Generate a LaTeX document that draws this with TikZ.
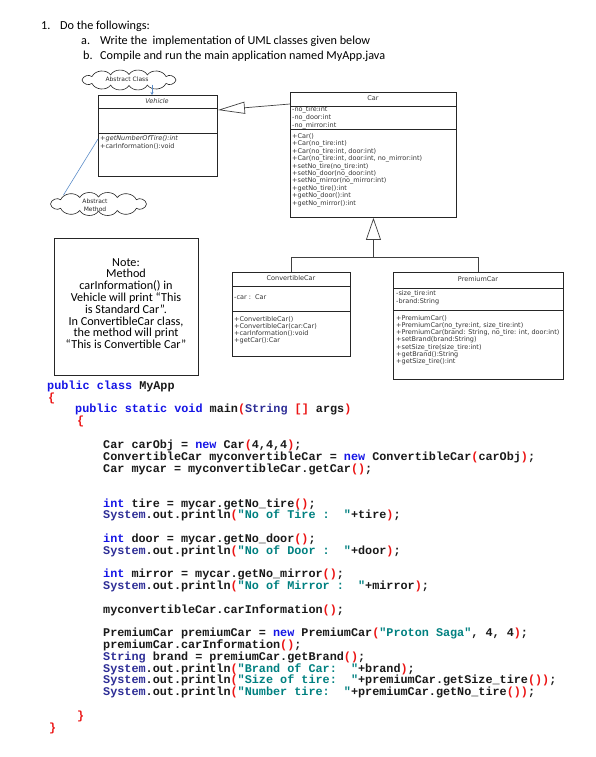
\documentclass[tikz,border=0pt]{standalone}
\usepackage{fontspec}
\setmainfont{Carlito}
\newfontfamily\umlf{DejaVu Sans}
\newfontfamily\codef{Liberation Mono}
\usetikzlibrary{shapes.geometric,arrows.meta,calc}
\definecolor{kwblue}{RGB}{20,20,230}
\definecolor{navyc}{RGB}{45,45,150}
\definecolor{strc}{RGB}{0,128,128}
\definecolor{redc}{RGB}{235,20,20}
\definecolor{codeblack}{RGB}{25,25,25}
\definecolor{noteblue}{RGB}{91,140,200}
\newcommand\jk[1]{\textcolor{kwblue}{#1}}
\newcommand\jn[1]{\textcolor{navyc}{#1}}
\newcommand\js[1]{\textcolor{strc}{#1}}
\newcommand\jr[1]{\textcolor{redc}{#1}}
\begin{document}
\begin{tikzpicture}[x=1pt,y=-1pt,
  hdr/.style={font=\fontsize{12.2}{14}\selectfont, inner sep=0pt, text height=8pt, text depth=2.6pt, anchor=west},
  uml/.style={font=\umlf\fontsize{6.5}{7.5}\selectfont, inner sep=0pt, text height=4.8pt, text depth=1.4pt, anchor=west, text=black!80},
  umlit/.style={uml, font=\umlf\itshape\fontsize{6.5}{7.5}\selectfont},
  umlname/.style={uml, anchor=center},
  umlbox/.style={draw=black!85, line width=0.9pt, inner sep=0pt, anchor=north west},
  umldiv/.style={draw=black!85, line width=0.9pt},
  umlline/.style={draw=black!75, line width=0.7pt},
  cloudline/.style={draw=black!85, line width=0.6pt},
  anchorell/.style={ellipse, draw=none, inner sep=0pt},
  pics/cloudpuff/.style n args={2}{code={
    \draw[cloudline] ({#1},0) \foreach \t in {38,67,90,113,142,180,218,247,270,293,322,360} { to[bend left=60] ({#1*cos(\t)},{#2*sin(\t)}) } -- cycle;}},
  cloudtxt/.style={font=\umlf\fontsize{6}{8.5}\selectfont, inner sep=0pt, align=center, text=black!85},
  bluelink/.style={draw=noteblue, line width=0.6pt},
  code/.style={font=\codef\bfseries\fontsize{11.8}{14}\selectfont, inner sep=0pt, text height=8pt, text depth=2.5pt, anchor=west, text=codeblack}]
\useasboundingbox (0,0) rectangle (596,757);

% ---------- header ----------
\node[hdr] (n1) at (41,27) {1.};
\node[hdr] (h1) at (60,27) {Do the followings:};
\node[hdr] (la) at (81,42) {a.};
\node[hdr] (ha) at (100,42) {Write the\ \ implementation of UML classes given below};
\node[hdr] (lb) at (83,57) {b.};
\node[hdr] (hb) at (100,57) {Compile and run the main application named MyApp.java};

% ---------- Vehicle ----------
\node[umlbox, minimum width=119pt, minimum height=81pt] (vehicle) at (98,95) {};
\draw[umldiv] ($(vehicle.north west)+(0,13)$) -- ($(vehicle.north east)+(0,13)$);
\draw[umldiv] ($(vehicle.north west)+(0,38)$) -- ($(vehicle.north east)+(0,38)$);
\node[umlit, anchor=center] (vname) at (157,101.5) {Vehicle};
\node[umlit] (vm1) at (100,139) {+getNumberOfTire():int};
\node[uml] (vm2) at (100,146.5) {+carInformation():void};

% ---------- Car ----------
\node[umlbox, minimum width=166pt, minimum height=125pt] (car) at (290,92) {};
\draw[umldiv] ($(car.north west)+(0,14)$) -- ($(car.north east)+(0,14)$);
\draw[umldiv] ($(car.north west)+(0,37)$) -- ($(car.north east)+(0,37)$);
\node[umlname] (cname) at (373,99) {Car};
\node[uml] (ca1) at (292,110) {-no\_tire:int};
\node[uml] (ca2) at (292,118) {-no\_door:int};
\node[uml] (ca3) at (292,126) {-no\_mirror:int};
\foreach \t [count=\i] in {{+Car()},{+Car(no\_tire:int)},{+Car(no\_tire:int, door:int)},{+Car(no\_tire:int, door:int, no\_mirror:int)},{+setNo\_tire(no\_tire:int)},{+setNo\_door(no\_door:int)},{+setNo\_mirror(no\_mirror:int)},{+getNo\_tire():int},{+getNo\_door():int},{+getNo\_mirror():int}}
  \node[uml] (cm\i) at (292,{136.5+7.45*(\i-1)}) {\t};

% ---------- ConvertibleCar ----------
\node[umlbox, minimum width=118pt, minimum height=84pt] (conv) at (232,272) {};
\draw[umldiv] ($(conv.north west)+(0,14)$) -- ($(conv.north east)+(0,14)$);
\draw[umldiv] ($(conv.north west)+(0,39)$) -- ($(conv.north east)+(0,39)$);
\node[umlname] (vcname) at (291,279) {ConvertibleCar};
\node[uml] (va1) at (234,298) {-car :\ \ Car};
\foreach \t [count=\i] in {{+ConvertibleCar()},{+ConvertibleCar(car:Car)},{+carInformation():void},{+getCar():Car}}
  \node[uml] (vcm\i) at (234,{320+6.9*(\i-1)}) {\t};

% ---------- PremiumCar ----------
\node[umlbox, minimum width=170pt, minimum height=107pt] (prem) at (393,272) {};
\draw[umldiv] ($(prem.north west)+(0,16)$) -- ($(prem.north east)+(0,16)$);
\draw[umldiv] ($(prem.north west)+(0,38)$) -- ($(prem.north east)+(0,38)$);
\node[umlname] (pname) at (478,279.5) {PremiumCar};
\node[uml] (pa1) at (396,293.5) {-size\_tire:int};
\node[uml] (pa2) at (396,302) {-brand:String};
\foreach \t [count=\i] in {{+PremiumCar()},{+PremiumCar(no\_tyre:int, size\_tire:int)},{+PremiumCar(brand: String, no\_tire: int, door:int)},{+setBrand(brand:String)},{+setSize\_tire(size\_tire:int)},{+getBrand():String},{+getSize\_tire():int}}
  \node[uml] (pm\i) at (396,{318.5+7.2*(\i-1)}) {\t};

% ---------- generalisations ----------
\draw[umlline, arrows={-{Triangle[open,length=27pt,width=12pt]}}] ($(car.north west)+(0,12)$) -- ($(vehicle.north east)+(0,15)$);
\coordinate (junc) at ($(car.south)+(0,39)$);
\draw[umlline] (conv.north) |- (junc) -| (prem.north);
\draw[umlline, arrows={-{Triangle[open,length=22pt,width=15pt]}}] (junc) -- (car.south);

% ---------- clouds ----------
\node[anchorell, minimum width=96pt, minimum height=11pt] (acl) at (129,80) {};
\pic at (acl.center) {cloudpuff={47}{5.5}};
\node[cloudtxt] (acltxt) at (127,79.5) {Abstract Class};
\draw[bluelink, -{Stealth[length=3pt,width=3pt]}] ($(acl.south)+(23,-1)$) -- (vehicle.north -| {$(acl.south)+(23,0)$});

\node[anchorell, minimum width=98pt, minimum height=14pt] (amc) at (98.5,204) {};
\pic at (amc.center) {cloudpuff={48}{7}};
\node[cloudtxt] (amctxt) at (95,205.5) {Abstract\\Method};
\draw[bluelink] ($(amc.center)+(-35,-9)$) -- (vehicle.west |- vm1);

% ---------- note ----------
\node[draw=black!85, line width=0.8pt, minimum width=144pt, minimum height=137pt, inner sep=0pt, anchor=north west] (note) at (54,238) {};
\node[font=\fontsize{12.2}{11.8}\selectfont, align=center, inner sep=0pt] (notetxt) at (126,303.5)
  {Note:\\Method\\carInformation() in\\Vehicle will print “This\\is Standard Car”.\\In ConvertibleCar class,\\the method will print\\“This is Convertible Car”};

% ---------- code ----------
\node[code] (c1) at (47,387) {\jk{public class} MyApp};
\node[code] (c2) at (48,398.5) {\jr{\{}};
\node[code] (c3) at (75,410) {\jk{public static void} main\jr{(}\jn{String} \jr{[]} args\jr{)}};
\node[code] (c4) at (77,422) {\jr{\{}};
\node[code] (c5) at (103,446) {Car carObj = \jk{new} Car\jr{(}4,4,4\jr{)};};
\node[code] (c6) at (103,457.7) {ConvertibleCar myconvertibleCar = \jk{new} ConvertibleCar\jr{(}carObj\jr{)};};
\node[code] (c7) at (103,469.4) {Car mycar = myconvertibleCar.getCar\jr{()};};
\node[code] (c8) at (103,504.5) {\jk{int} tire = mycar.getNo\_tire\jr{()};};
\node[code] (c9) at (103,516) {\jn{System}.out.println\jr{(}\js{"No of Tire :\ \ "}+tire\jr{)};};
\node[code] (c10) at (103,540) {\jk{int} door = mycar.getNo\_door\jr{()};};
\node[code] (c11) at (103,552) {\jn{System}.out.println\jr{(}\js{"No of Door :\ \ "}+door\jr{)};};
\node[code] (c12) at (103,575) {\jk{int} mirror = mycar.getNo\_mirror\jr{()};};
\node[code] (c13) at (103,587) {\jn{System}.out.println\jr{(}\js{"No of Mirror :\ \ "}+mirror\jr{)};};
\node[code] (c14) at (103,611) {myconvertibleCar.carInformation\jr{()};};
\node[code] (c15) at (103,634) {PremiumCar premiumCar = \jk{new} PremiumCar\jr{(}\js{"Proton Saga"}, 4, 4\jr{)};};
\node[code] (c16) at (103,646) {premiumCar.carInformation\jr{()};};
\node[code] (c17) at (103,658) {\jn{String} brand = premiumCar.getBrand\jr{()};};
\node[code] (c18) at (103,669.5) {\jn{System}.out.println\jr{(}\js{"Brand of Car:\ \ "}+brand\jr{)};};
\node[code] (c19) at (103,681) {\jn{System}.out.println\jr{(}\js{"Size of tire:\ \ "}+premiumCar.getSize\_tire\jr{())};};
\node[code] (c20) at (103,693) {\jn{System}.out.println\jr{(}\js{"Number tire:\ \ "}+premiumCar.getNo\_tire\jr{())};};
\node[code] (c21) at (77,717) {\jr{\}}};
\node[code] (c22) at (49,728.5) {\jr{\}}};
\end{tikzpicture}
\end{document}
